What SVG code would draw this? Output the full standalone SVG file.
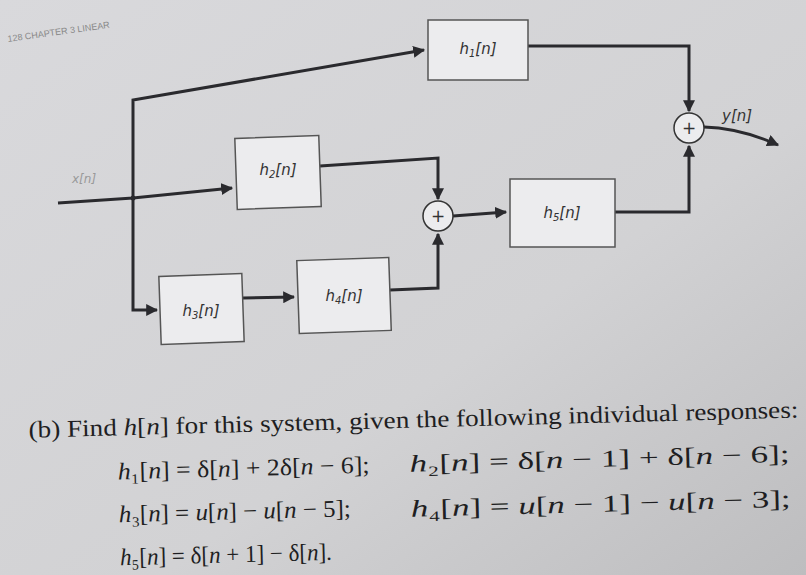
<svg xmlns="http://www.w3.org/2000/svg" width="806" height="575" viewBox="0 0 806 575">
<defs>
<linearGradient id="bg" x1="0" y1="0" x2="1" y2="1"><stop offset="0" stop-color="#d9d9dc"/><stop offset="0.6" stop-color="#d2d2d4"/><stop offset="1" stop-color="#bdbdbf"/></linearGradient>
<marker id="ar" viewBox="0 0 10 10" refX="9" refY="5" markerWidth="4" markerHeight="4" orient="auto"><path d="M0,0L10,5L0,10z" fill="#2a2a2e"/></marker>
<style>
.box{fill:#ececee;stroke:#555;stroke-width:1.5}
.lbl{font-family:"DejaVu Sans",sans-serif;font-style:italic;font-size:15px;fill:#333}
.w{fill:none;stroke:#2a2a2e;stroke-width:3}
.sum{fill:#ececee;stroke:#333;stroke-width:1.5}
.eq{font-family:"Liberation Serif",serif;font-size:24px;fill:#1e1e22}
.i{font-style:italic}
</style>
</defs>
<rect width="806" height="575" fill="url(#bg)"/>
<text x="8" y="42" font-family="Liberation Sans,sans-serif" font-size="9" fill="#888" transform="rotate(-8 8 42)">128   CHAPTER 3    LINEAR</text>
<g id="connectors">
<path class="w" d="M58,203 L133,198 L232,188" marker-end="url(#ar)"/>
<path class="w" d="M133,198 L133,100 L424,50" marker-end="url(#ar)"/>
<path class="w" d="M133,198 L133,310 L157,310" marker-end="url(#ar)"/>
<path class="w" d="M243,298 L294,297" marker-end="url(#ar)"/>
<path class="w" d="M390,290 L438,288 L438,234" marker-end="url(#ar)"/>
<path class="w" d="M320,166 L438,158 L438,199" marker-end="url(#ar)"/>
<path class="w" d="M453,216 L506,212" marker-end="url(#ar)"/>
<path class="w" d="M615,212 L689,212 L689,146" marker-end="url(#ar)"/>
<path class="w" d="M528,46 L689,46 L689,111" marker-end="url(#ar)"/>
<path class="w" d="M704,127 Q740,128 778,145" marker-end="url(#ar)"/>
</g>
<circle cx="133" cy="198" r="2.5" fill="#2a2a2e"/>
<text x="72" y="183" class="lbl" style="fill:#999;font-size:12px">x[n]</text>
<text x="722" y="121" class="lbl">y[n]</text>
<g id="h1"><rect class="box" x="428" y="20" width="100" height="60"/><text x="478" y="54" class="lbl" text-anchor="middle">h<tspan font-size="10" dy="3">1</tspan><tspan dy="-3">[n]</tspan></text></g>
<g id="h2"><rect class="box" x="236" y="137" width="84" height="71" transform="rotate(-2 278 172)"/><text x="278" y="175" class="lbl" text-anchor="middle">h<tspan font-size="10" dy="3">2</tspan><tspan dy="-3">[n]</tspan></text></g>
<g id="h3"><rect class="box" x="160" y="275" width="83" height="68" transform="rotate(-2 201 309)"/><text x="201" y="316" class="lbl" text-anchor="middle">h<tspan font-size="10" dy="3">3</tspan><tspan dy="-3">[n]</tspan></text></g>
<g id="h4"><rect class="box" x="298" y="259" width="92" height="73" transform="rotate(-2 344 295)"/><text x="344" y="301" class="lbl" text-anchor="middle">h<tspan font-size="10" dy="3">4</tspan><tspan dy="-3">[n]</tspan></text></g>
<g id="h5"><rect class="box" x="510" y="179" width="105" height="68"/><text x="562" y="218" class="lbl" text-anchor="middle">h<tspan font-size="10" dy="3">5</tspan><tspan dy="-3">[n]</tspan></text></g>
<g id="sum1"><circle class="sum" cx="438" cy="216" r="15"/><text x="438" y="222" text-anchor="middle" font-family="DejaVu Sans,sans-serif" font-size="17" fill="#333">+</text></g>
<g id="sum2"><circle class="sum" cx="689" cy="128" r="15"/><text x="689" y="134" text-anchor="middle" font-family="DejaVu Sans,sans-serif" font-size="17" fill="#333">+</text></g>
<g transform="rotate(-1.5 400 480)">
<text x="30" y="428" class="eq" font-size="25" textLength="770" lengthAdjust="spacingAndGlyphs">(b) Find <tspan class="i">h</tspan>[<tspan class="i">n</tspan>] for this system, given the following individual responses:</text>
<text x="118" y="472" class="eq" font-size="25" textLength="252" lengthAdjust="spacingAndGlyphs"><tspan class="i">h</tspan>₁[<tspan class="i">n</tspan>] = δ[<tspan class="i">n</tspan>] + 2δ[<tspan class="i">n</tspan> − 6];</text>
<text x="410" y="472" class="eq" font-size="31" textLength="380" lengthAdjust="spacingAndGlyphs"><tspan class="i">h</tspan>₂[<tspan class="i">n</tspan>] = δ[<tspan class="i">n</tspan> − 1] + δ[<tspan class="i">n</tspan> − 6];</text>
<text x="118" y="515" class="eq" font-size="25" textLength="232" lengthAdjust="spacingAndGlyphs"><tspan class="i">h</tspan>₃[<tspan class="i">n</tspan>] = <tspan class="i">u</tspan>[<tspan class="i">n</tspan>] − <tspan class="i">u</tspan>[<tspan class="i">n</tspan> − 5];</text>
<text x="410" y="517" class="eq" font-size="31" textLength="380" lengthAdjust="spacingAndGlyphs"><tspan class="i">h</tspan>₄[<tspan class="i">n</tspan>] = <tspan class="i">u</tspan>[<tspan class="i">n</tspan> − 1] − <tspan class="i">u</tspan>[<tspan class="i">n</tspan> − 3];</text>
<text x="118" y="558" class="eq" font-size="25" textLength="212" lengthAdjust="spacingAndGlyphs"><tspan class="i">h</tspan>₅[<tspan class="i">n</tspan>] = δ[<tspan class="i">n</tspan> + 1] − δ[<tspan class="i">n</tspan>].</text>
</g>
</svg>
